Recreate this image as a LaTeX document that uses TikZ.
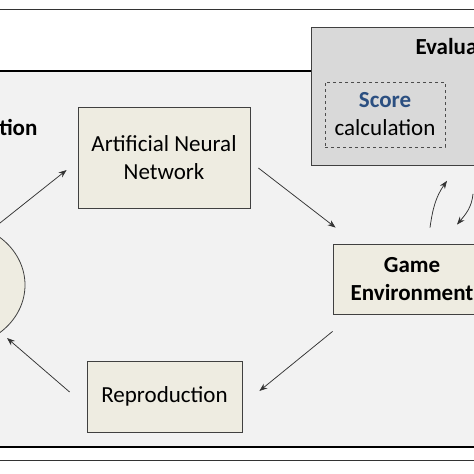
\documentclass[tikz,border=0pt]{standalone}
\usepackage{fontspec}
\setmainfont{Carlito}
\usepackage{tikz}
\usetikzlibrary{calc}
\usetikzlibrary{shapes.geometric}
\usetikzlibrary{arrows.meta}
\definecolor{panelgray}{HTML}{F2F2F2}
\definecolor{evalgray}{HTML}{D9D9D9}
\definecolor{boxbeige}{HTML}{EEECE1}
\definecolor{scoreblue}{HTML}{2B4F81}

\begin{document}
\begin{tikzpicture}[x=1pt,y=1pt,>={Stealth[length=8pt,width=6pt]},
    font=\fontsize{23}{28}\selectfont,
    blk/.style={draw=black!75,fill=boxbeige,line width=0.8pt,align=center,inner sep=0pt},
    arr/.style={->,draw=black!80,line width=0.75pt}]
    \clip (0,0) rectangle (474,-474);
    \fill[white] (0,0) rectangle (474,-474);
    \draw[black!80,line width=0.8pt] (-10,-9) rectangle (490,-460);
    \draw[black,line width=2.4pt,fill=panelgray] (-20,-71) rectangle (500,-447);
    \node[draw=black!75,fill=evalgray,line width=0.8pt,anchor=north west,
        minimum width=250,minimum height=138,inner sep=0pt] (eval) at (311,-27) {};
    \node[anchor=west,font=\fontsize{23}{28}\selectfont\bfseries] (evaltitle) at (412,-47) {Evalua};
    \node[draw=black!70,dashed,line width=0.7pt,minimum width=120,minimum height=65,
        align=center,inner sep=0pt] (score) at (385,-114.5)
        {\textcolor{scoreblue}{\bfseries Score}\\calculation};
    \node[anchor=east,font=\fontsize{23}{28}\selectfont\bfseries] (gentitle) at (41,-127) {tion};
    \node[ellipse,draw=black!75,fill=boxbeige,line width=0.8pt,
        minimum width=140,minimum height=124] (gen) at (-45,-285) {};
    \node[blk,minimum width=172,minimum height=101] (ann) at (164,-157.5) {Artificial Neural\\Network};
    \node[blk,minimum width=158,minimum height=70,font=\fontsize{23}{28}\selectfont\bfseries] (game) at (412,-279) {Game\\Environment};
    \node[blk,minimum width=155,minimum height=71] (repro) at (164.5,-396.5) {Reproduction};
    \draw[arr] ($(gen.center)+(45,62)$) -- ($(ann.west)+(-11,-12.5)$);
    \draw[arr] ($(ann.east)+(8,-10.5)$) -- ($(game.north west)+(3,16)$);
    \draw[arr] ($(game.north)+(18,16)$) to[out=82,in=235] ($(eval.south west)+(136,-15)$);
    \draw[arr] ($(eval.south west)+(162,-28)$) to[out=-95,in=50] ($(game.north)+(45,19)$);
    \draw[arr] ($(game.south west)+(0,-17)$) -- ($(repro.east)+(17,5.5)$);
    \draw[arr] ($(repro.west)+(-17,4.5)$) -- ($(gen.center)+(52,-53)$);
\end{tikzpicture}
\end{document}
